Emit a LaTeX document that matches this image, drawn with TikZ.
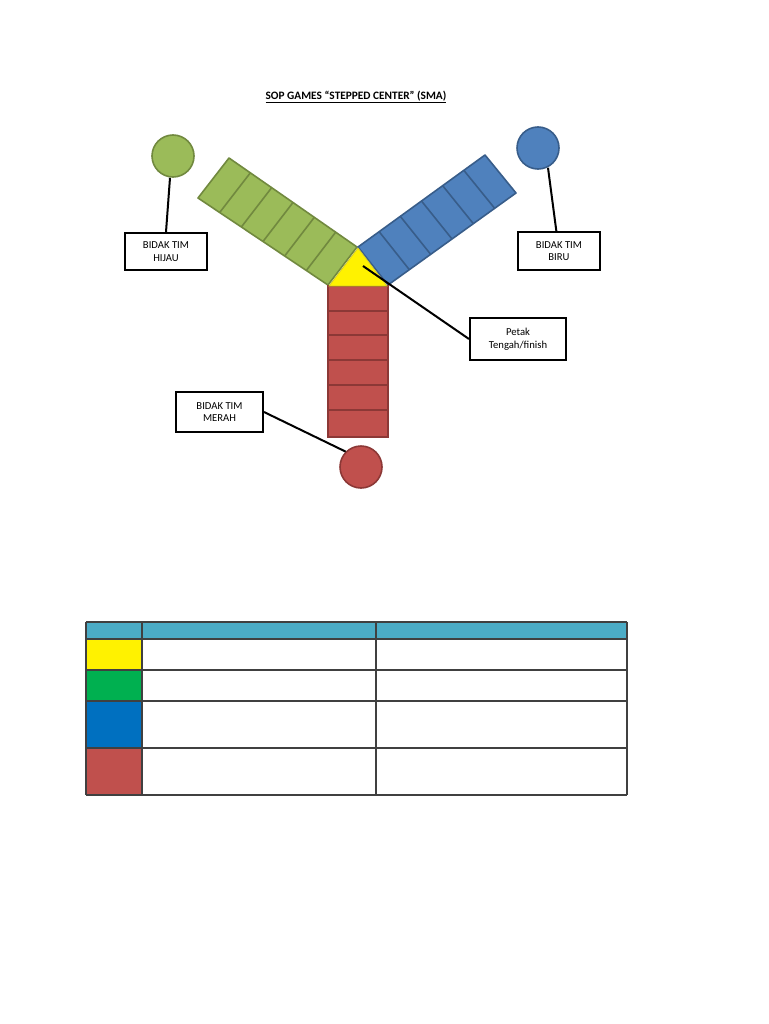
\documentclass[tikz,border=0pt]{standalone}
\usepackage{fontspec}
\setmainfont{Carlito}
\usetikzlibrary{calc}
\definecolor{gfill}{HTML}{9BBB59}\definecolor{gedge}{HTML}{71893F}
\definecolor{bfill}{HTML}{4F81BD}\definecolor{bedge}{HTML}{385D8A}
\definecolor{rfill}{HTML}{C0504D}\definecolor{redge}{HTML}{8C3836}
\definecolor{hdr}{HTML}{4BACC6}\definecolor{tgreen}{HTML}{00B050}\definecolor{tblue}{HTML}{0070C0}
\tikzset{lbl/.style={draw,line width=1.5pt,fill=white,font=\fontsize{8}{9.5}\selectfont,align=center,inner sep=0pt},
 lead/.style={line width=1.5pt},
 cell/.style={draw=black!75,line width=0.9pt}}
\begin{document}
\begin{tikzpicture}[x=0.75pt,y=-0.75pt]
\useasboundingbox (0,0) rectangle (768,1024);
\node[font=\bfseries\fontsize{8.5}{10}\selectfont] (title) at (356,97) {\underline{SOP GAMES “STEPPED CENTER” (SMA)}};
% green bar
\coordinate (ga) at (198,198);\coordinate (gb) at (229,158);\coordinate (gc) at (357,247);\coordinate (gd) at (328,285);
\filldraw[fill=gfill,draw=gedge,line width=1.2pt,line join=round] (ga)--(gb)--(gc)--(gd)--cycle;
\foreach \i in {1,...,5}{\draw[gedge,line width=1.2pt] ($(ga)!\i/6!(gd)$)--($(gb)!\i/6!(gc)$);}
% blue bar
\coordinate (ba) at (358,247);\coordinate (bb) at (485,155);\coordinate (bc) at (516,193);\coordinate (bd) at (388,285);
\filldraw[fill=bfill,draw=bedge,line width=1.2pt,line join=round] (ba)--(bb)--(bc)--(bd)--cycle;
\foreach \i in {1,...,5}{\draw[bedge,line width=1.2pt] ($(ba)!\i/6!(bb)$)--($(bd)!\i/6!(bc)$);}
% red bar
\filldraw[fill=rfill,draw=redge,line width=1.2pt] (328,286) rectangle (388,437);
\foreach \y in {311,335,360,385,410}{\draw[redge,line width=1.5pt] (328,\y)--(388,\y);}
% yellow
\filldraw[fill=yellow,draw=yellow!80!black,line width=0.5pt] (358,248)--(329,286)--(387,286)--cycle;
\coordinate (yc) at (363,266);
% circles
\node[circle,minimum size=31.5pt,fill=gfill,draw=gedge,line width=1.2pt] (cg) at (173,156) {};
\node[circle,minimum size=31.5pt,fill=bfill,draw=bedge,line width=1.2pt] (cb) at (538,148) {};
\node[circle,minimum size=31.5pt,fill=rfill,draw=redge,line width=1.2pt] (cr) at (361,467) {};
% labels
\node[lbl,minimum width=61.5pt,minimum height=27.75pt] (lh) at (166,251.5) {BIDAK TIM\\HIJAU};
\node[lbl,minimum width=61.5pt,minimum height=28.5pt] (lb) at (559,251) {BIDAK TIM\\BIRU};
\node[lbl,minimum width=72pt,minimum height=31.5pt] (lp) at (518,339) {Petak\\Tengah/finish};
\node[lbl,minimum width=65.25pt,minimum height=30pt] (lm) at (219.5,412) {BIDAK TIM\\MERAH};
\draw[lead] (cg.south) ++(-3,0) -- (lh.north);
\draw[lead] (cb.south) ++(10,-2) -- ([xshift=-2]lb.north);
\draw[lead] (yc) -- (lp.west);
\draw[lead] (lm.east) -- (cr.north west);
% table
\fill[hdr] (86,622) rectangle (627,639);
\fill[yellow] (86,639) rectangle (142,670);
\fill[tgreen] (86,670) rectangle (142,701);
\fill[tblue] (86,701) rectangle (142,748);
\fill[rfill] (86,748) rectangle (142,795);
\foreach \y in {622,639,670,701,748,795}{\draw[cell] (86,\y)--(627,\y);}
\foreach \x in {86,142,376,627}{\draw[cell] (\x,622)--(\x,795);}
\end{tikzpicture}
\end{document}
